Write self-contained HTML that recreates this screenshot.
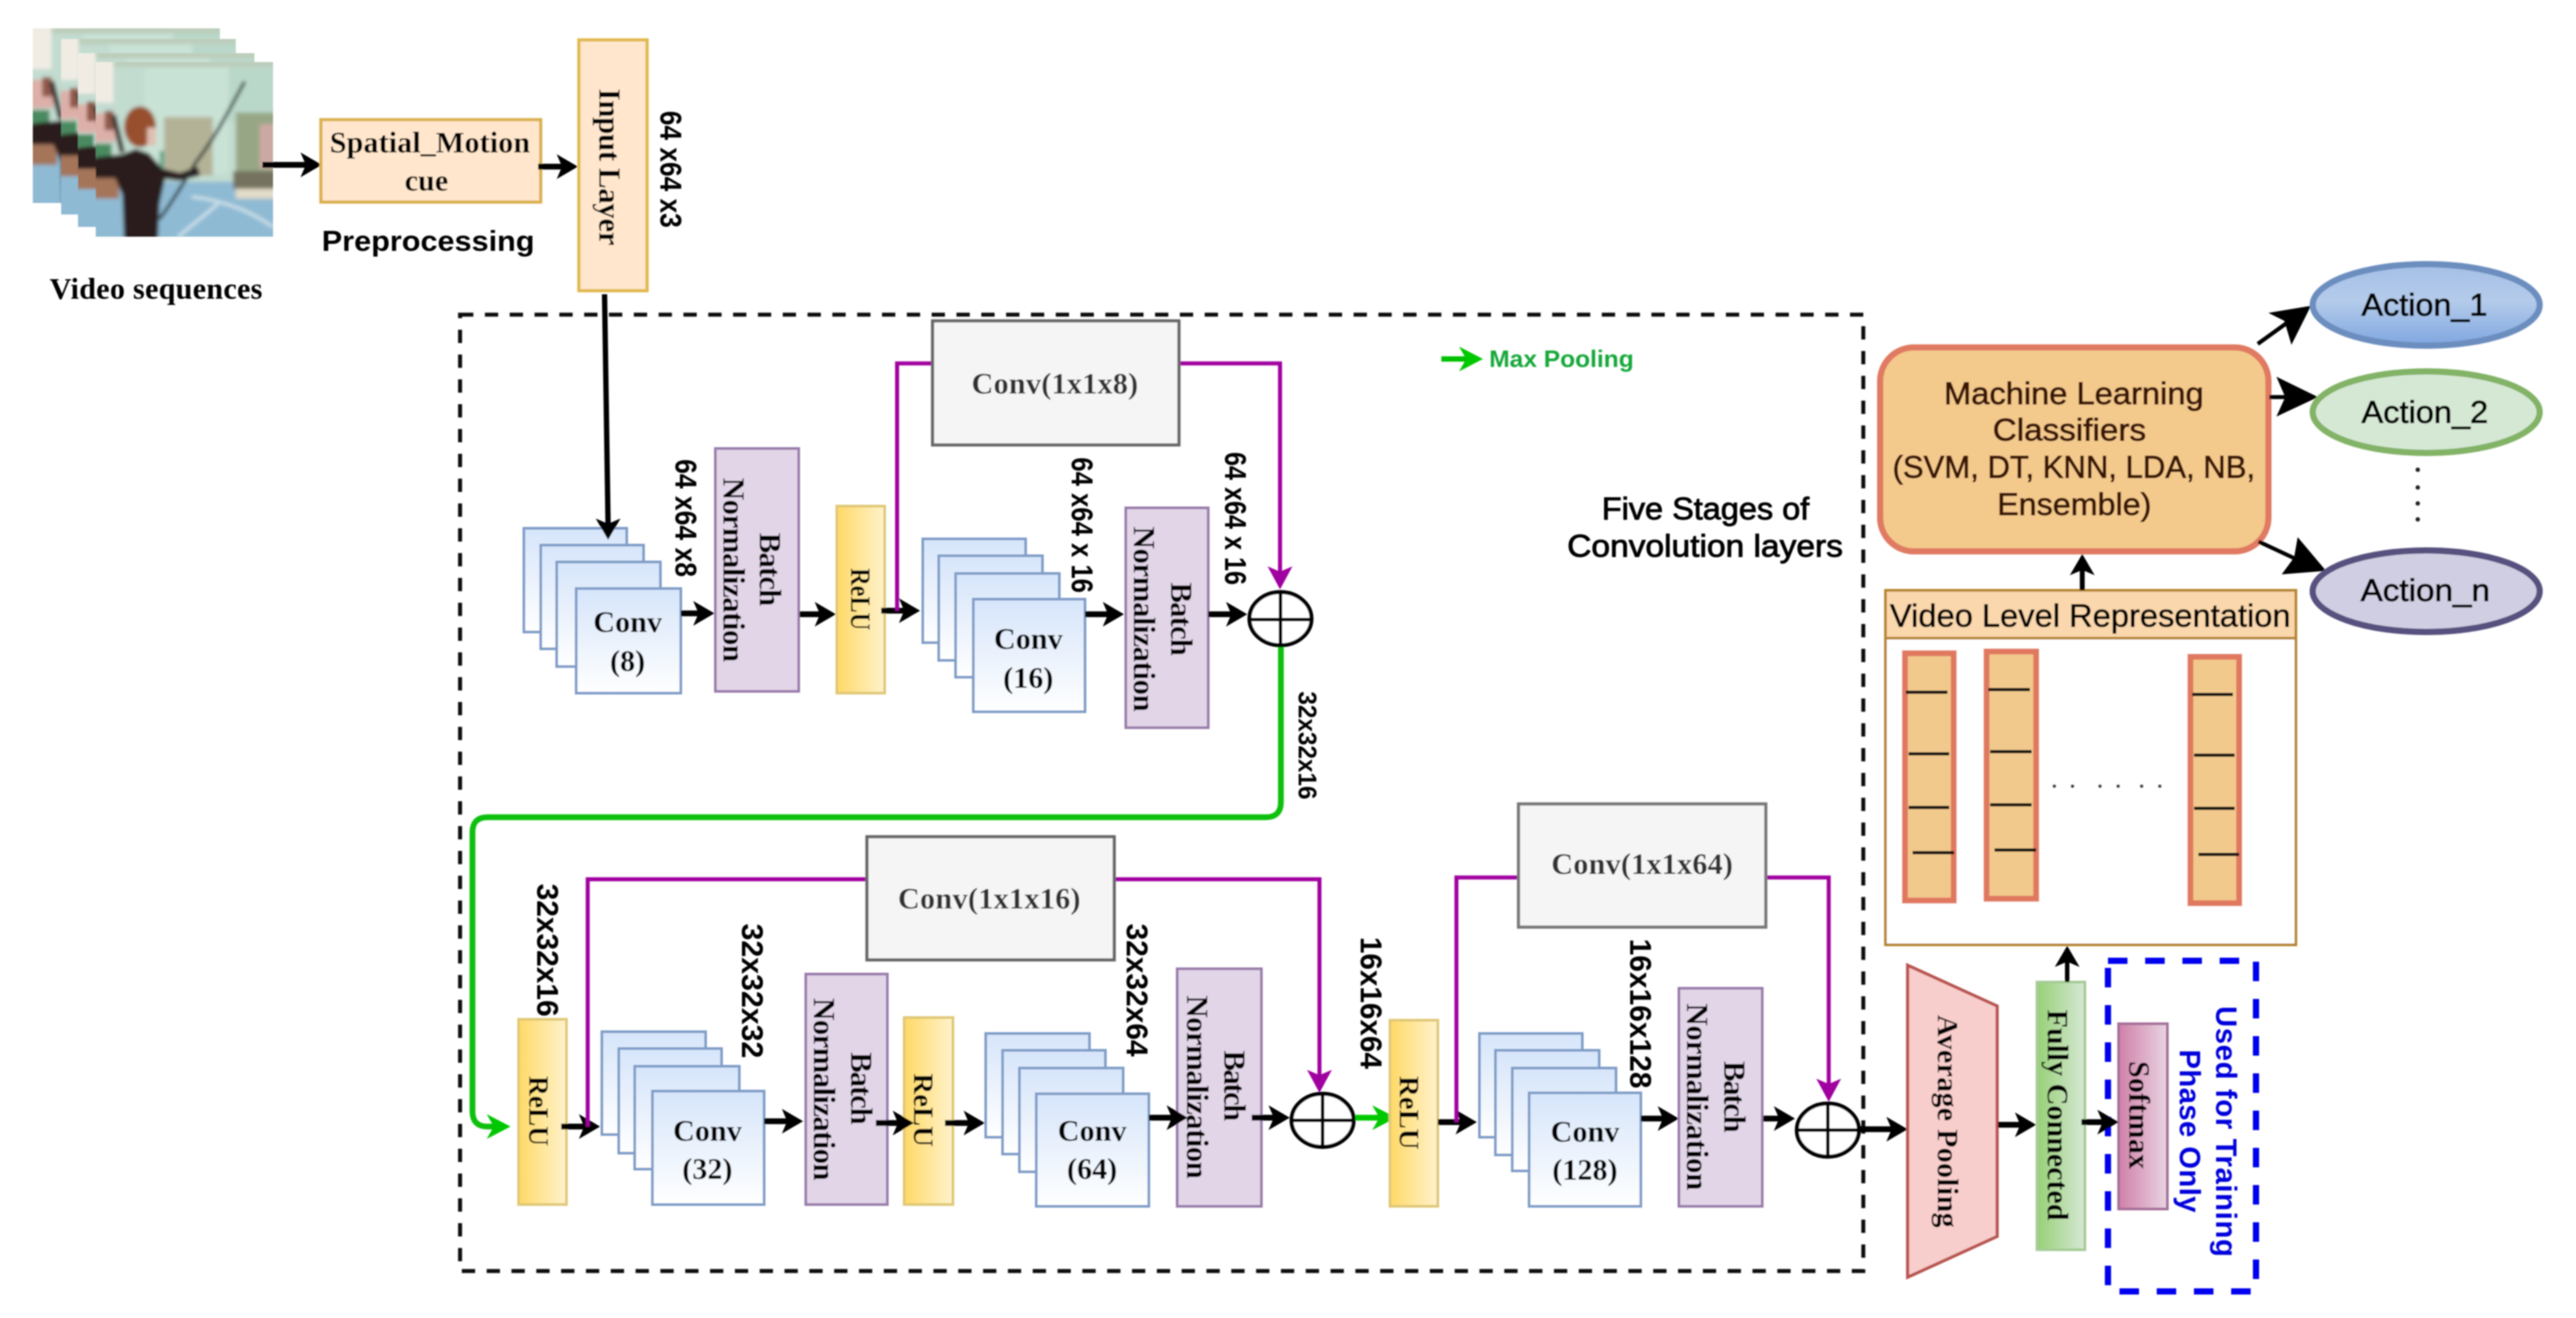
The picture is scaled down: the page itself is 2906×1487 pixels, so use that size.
<!DOCTYPE html>
<html lang="en"><head><meta charset="utf-8"><title>Architecture diagram</title>
<style>
html,body{margin:0;padding:0;background:#fff}
svg.main{display:block;width:2906px;height:1487px}
text{fill:#000}
.s{font-family:"Liberation Serif",serif;font-weight:700;font-size:34px}
.n{font-size:35px}
.a{font-family:"Liberation Sans",sans-serif;font-weight:700;font-size:34px}
.m{font-family:"Liberation Sans",sans-serif;font-weight:400;font-size:35px;stroke:#000;stroke-width:.9px}
.k{fill:url(#gc);stroke:#7f9dc8;stroke-width:3}
.b{fill:#e1d5e7;stroke:#9a7cab;stroke-width:3}
.r{fill:url(#gr);stroke:#e0c878;stroke-width:3}
.g{fill:#f5f5f5;stroke:#666;stroke-width:3.5}
.p{fill:none;stroke:#a000a0;stroke-width:4.5}
.l{stroke:#000;stroke-width:6.5;fill:none}
.v{stroke:#000;stroke-width:4;fill:none}
.o{fill:#fff;stroke:#000;stroke-width:4.5}
.bar{fill:#f2c98c;stroke:#e0785f;stroke-width:6.5}
.t{stroke:#111;stroke-width:3.5}
.mid{text-anchor:middle}
.gy{fill:#333}
.br{stroke:#3a1505!important;fill:#3a1505!important}
</style></head><body>
<svg class="main" xmlns="http://www.w3.org/2000/svg" viewBox="0 0 2906 1487">
<defs>
<linearGradient id="gc" x1="0" y1="0" x2="0" y2="1"><stop offset="0" stop-color="#d6e5fa"/><stop offset="1" stop-color="#fff"/></linearGradient>
<linearGradient id="gr" x1="0" y1="0" x2="1" y2="0"><stop offset="0" stop-color="#ffd966"/><stop offset="1" stop-color="#fff2cc"/></linearGradient>
<linearGradient id="gf" x1="0" y1="0" x2="1" y2="0"><stop offset="0" stop-color="#97d077"/><stop offset="1" stop-color="#d5e8d4"/></linearGradient>
<linearGradient id="gs" x1="0" y1="0" x2="1" y2="0"><stop offset="0" stop-color="#d080a8"/><stop offset="1" stop-color="#e8d4e2"/></linearGradient>
<linearGradient id="ga" x1="0" y1="0" x2="0" y2="1"><stop offset="0" stop-color="#a4bfe6"/><stop offset=".45" stop-color="#b4cbea"/><stop offset="1" stop-color="#7ea6e0"/></linearGradient>
<filter id="soft" x="-2%" y="-2%" width="104%" height="104%"><feGaussianBlur stdDeviation=".8"/></filter>
<filter id="ph-b" x="0" y="0" width="100%" height="100%"><feGaussianBlur stdDeviation="2"/></filter>
<path id="ah" d="M-24,-14 L0,0 L-24,14 L-18,0Z" fill="#000"/>
<path id="ahg" d="M-27,-14 L0,0 L-27,14 L-19,0Z" fill="#00c800"/>
<path id="ahp" d="M-26,-14 L0,0 L-26,14 L-20,0Z" fill="#a000a0"/>
<g id="ph" filter="url(#ph-b)">
 <rect x="-6" y="-6" width="212" height="209" fill="#c2dcd0"/>
 <rect x="-6" y="-6" width="212" height="12" fill="#bccdbb"/>
 <rect x="55" y="6" width="95" height="120" fill="#c9e2d6"/>
 <rect x="150" y="6" width="54" height="62" fill="#bad8ca"/>
 <rect x="-6" y="-4" width="26" height="50" fill="#f0ece4"/>
 <rect x="72" y="100" width="30" height="30" fill="#62a68a"/>
 <rect x="77" y="62" width="55" height="66" fill="#b3b297"/>
 <rect x="158" y="57" width="46" height="66" fill="#97a785"/>
 <rect x="185" y="70" width="19" height="50" fill="#cba9a2"/>
 <rect x="-6" y="58" width="28" height="32" fill="#dcb0a8"/>
 <rect x="10" y="55" width="10" height="22" fill="#8f5a4c"/>
 <rect x="-6" y="92" width="24" height="15" fill="#4a8a60"/>
 <rect x="-6" y="135" width="212" height="68" fill="#8fbad3"/>
 <rect x="-6" y="130" width="32" height="24" fill="#a5755a"/>
 <rect x="155" y="123" width="49" height="20" fill="#74725f"/>
 <rect x="158" y="143" width="46" height="11" fill="#e2dcc8"/>
 <path d="M93 197L138 160M108 152Q160 158 200 186" stroke="#dfeef2" stroke-width="2.5" fill="none"/>
 <path d="M-6 108L30 104L45 98L60 103L75 120L95 125L115 118L118 128L95 134L78 132L72 160L70 203L32 203L30 150L22 131L-6 131Z" fill="#2a1c1e"/>
 <path d="M20 60L30 102" stroke="#3c3230" stroke-width="6"/>
 <ellipse cx="50" cy="73" rx="18" ry="23" fill="#98502f"/>
 <rect x="58" y="74" width="10" height="20" fill="#e0c0b0"/>
 <path d="M168 22C150 55 135 85 113 113C100 135 85 160 72 177" stroke="#1c2c2c" stroke-width="3.5" fill="none"/>
</g>
</defs>

<g filter="url(#soft)">
<!-- photo stack -->
<svg x="37" y="32" width="211" height="197" viewBox="0 0 200 197" preserveAspectRatio="none"><use href="#ph"/></svg>
<svg x="69" y="44" width="197" height="198" viewBox="0 0 200 197" preserveAspectRatio="none"><use href="#ph"/></svg>
<svg x="88" y="60" width="199" height="196" viewBox="0 0 200 197" preserveAspectRatio="none"><use href="#ph"/></svg>
<svg x="108" y="70" width="200" height="197" viewBox="0 0 200 197" preserveAspectRatio="none"><use href="#ph"/></svg>
<text class="s" x="56" y="337" textLength="240">Video sequences</text>

<line class="l" x1="296" y1="186" x2="349" y2="186"/><use href="#ah" transform="translate(363,186)"/>
<rect x="362" y="135" width="248" height="93" fill="#ffe6cc" stroke="#d9b050" stroke-width="3.5"/>
<text class="s" x="372" y="172" textLength="226">Spatial_Motion</text>
<text class="s mid" x="481" y="215">cue</text>
<text class="a" x="363" y="283" textLength="240" lengthAdjust="spacingAndGlyphs" style="font-size:32px">Preprocessing</text>
<line class="l" x1="607" y1="188" x2="638" y2="188"/><use href="#ah" transform="translate(652,188)"/>
<rect x="653" y="45" width="77" height="283" fill="#ffe6cc" stroke="#e0b84c" stroke-width="3.5"/>
<text class="s n" transform="translate(676,100) rotate(90)" textLength="177">Input  Layer</text>
<text class="a" transform="translate(745,125) rotate(90)" textLength="132" lengthAdjust="spacingAndGlyphs">64 x64 x3</text>

<!-- main dashed box -->
<rect x="519" y="355" width="1583" height="1079" fill="none" stroke="#111" stroke-width="4.5" stroke-dasharray="15 13"/>

<!-- max pooling legend -->
<line x1="1626" y1="405" x2="1655" y2="405" stroke="#00c000" stroke-width="6"/><use href="#ahg" transform="translate(1673,405)"/>
<text class="a" x="1680" y="414" textLength="163" lengthAdjust="spacingAndGlyphs" style="font-size:27px;fill:#12a83a">Max Pooling</text>
<text class="m" x="1807" y="586" textLength="234" lengthAdjust="spacingAndGlyphs">Five Stages of</text>
<text class="m" x="1768" y="628" textLength="311" lengthAdjust="spacingAndGlyphs">Convolution layers</text>

<!-- Row 1 -->
<rect class="k" x="591" y="596" width="116" height="117"/>
<rect class="k" x="610" y="615" width="116" height="117"/>
<rect class="k" x="628" y="634" width="117" height="118"/>
<rect class="k" x="650" y="664" width="118" height="118"/>
<text class="s mid" x="708" y="713">Conv</text><text class="s mid" x="708" y="757">(8)</text>
<line class="v" x1="682" y1="332" x2="686" y2="595" style="stroke-width:6"/><use href="#ah" transform="translate(686,609) rotate(90)"/>
<text class="a" transform="translate(762,518) rotate(90)" textLength="133" lengthAdjust="spacingAndGlyphs">64 x64 x8</text>
<line class="l" x1="768" y1="692" x2="792" y2="692"/><use href="#ah" transform="translate(806,692)"/>
<rect class="b" x="807" y="506" width="94" height="274"/>
<text class="s n" transform="translate(857,601) rotate(90)" textLength="83">Batch</text>
<text class="s n" transform="translate(816,539) rotate(90)" textLength="208">Normalization</text>
<line class="l" x1="902" y1="693" x2="929" y2="693"/><use href="#ah" transform="translate(943,693)"/>
<rect class="r" x="944" y="571" width="54" height="211"/>
<text class="s" transform="translate(960,641) rotate(90)" textLength="70" lengthAdjust="spacingAndGlyphs" style="font-size:32px">ReLU</text>
<line class="l" x1="994" y1="689" x2="1024" y2="689"/><use href="#ah" transform="translate(1038,689)"/>
<path class="p" d="M1012 689V410H1052M1330 410H1444V650"/><use href="#ahp" transform="translate(1444,665) rotate(90)"/>
<rect class="g" x="1052" y="362" width="278" height="140"/>
<text class="s gy" x="1096" y="444" textLength="188">Conv(1x1x8)</text>
<rect class="k" x="1041" y="608" width="116" height="117"/>
<rect class="k" x="1059" y="627" width="117" height="118"/>
<rect class="k" x="1078" y="647" width="117" height="117"/>
<rect class="k" x="1098" y="676" width="126" height="127"/>
<text class="s mid" x="1160" y="732">Conv</text><text class="s mid" x="1160" y="776">(16)</text>
<text class="a" transform="translate(1209,516) rotate(90)" textLength="153" lengthAdjust="spacingAndGlyphs">64 x64 x 16</text>
<line class="l" x1="1224" y1="693" x2="1254" y2="693"/><use href="#ah" transform="translate(1268,693)"/>
<rect class="b" x="1270" y="573" width="93" height="248"/>
<text class="s n" transform="translate(1321,657) rotate(90)" textLength="83">Batch</text>
<text class="s n" transform="translate(1279,594) rotate(90)" textLength="209">Normalization</text>
<text class="a" transform="translate(1382,510) rotate(90)" textLength="150" lengthAdjust="spacingAndGlyphs">64 x64 x 16</text>
<line class="l" x1="1363" y1="693" x2="1393" y2="693"/><use href="#ah" transform="translate(1407,693)"/>
<!-- green link -->
<path d="M1445 728V905Q1445 922 1428 922H550Q533 922 533 939V1254Q533 1271 550 1271H560" fill="none" stroke="#0cc00c" stroke-width="6.5"/>
<use href="#ahg" transform="translate(576,1271)"/>
<ellipse class="o" cx="1444.5" cy="698" rx="35" ry="30"/><path d="M1409 699H1480M1444.5 668V728" stroke="#000" stroke-width="4"/>
<text class="a" transform="translate(1465,780) rotate(90)" textLength="122" lengthAdjust="spacingAndGlyphs" style="font-size:29px">32x32x16</text>

<!-- Row 2 -->
<text class="a" transform="translate(606,997) rotate(90)" textLength="150" lengthAdjust="spacingAndGlyphs">32x32x16</text>
<rect class="r" x="585" y="1150" width="54" height="209"/>
<text class="s" transform="translate(597,1214) rotate(90)" textLength="79" lengthAdjust="spacingAndGlyphs" style="font-size:32px">ReLU</text>
<line class="l" x1="633" y1="1271" x2="663" y2="1271"/><use href="#ah" transform="translate(677,1271)"/>
<path class="p" d="M663 1271V992H978M1257 992H1488.5V1218"/><use href="#ahp" transform="translate(1488.5,1233) rotate(90)"/>
<rect class="g" x="978" y="944" width="279" height="139"/>
<text class="s gy" x="1013" y="1025" textLength="206">Conv(1x1x16)</text>
<rect class="k" x="679" y="1164" width="117" height="116"/>
<rect class="k" x="698" y="1183" width="116" height="118"/>
<rect class="k" x="716" y="1203" width="118" height="116"/>
<rect class="k" x="736" y="1231" width="126" height="128"/>
<text class="s mid" x="798" y="1287">Conv</text><text class="s mid" x="798" y="1330">(32)</text>
<text class="a" transform="translate(837,1042) rotate(90)" textLength="152" lengthAdjust="spacingAndGlyphs">32x32x32</text>
<line class="l" x1="862" y1="1265" x2="892" y2="1265"/><use href="#ah" transform="translate(906,1265)"/>
<rect class="b" x="909" y="1099" width="92" height="260"/>
<text class="s n" transform="translate(960,1187) rotate(90)" textLength="82">Batch</text>
<text class="s n" transform="translate(918,1126) rotate(90)" textLength="206">Normalization</text>
<rect class="r" x="1020" y="1148" width="55" height="211"/>
<text class="s" transform="translate(1031,1211) rotate(90)" textLength="83" lengthAdjust="spacingAndGlyphs" style="font-size:32px">ReLU</text>
<line class="l" x1="988" y1="1267" x2="1017" y2="1267"/><use href="#ah" transform="translate(1031,1267)"/>
<line class="l" x1="1066" y1="1267" x2="1097" y2="1267"/><use href="#ah" transform="translate(1111,1267)"/>
<rect class="k" x="1112" y="1166" width="117" height="117"/>
<rect class="k" x="1131" y="1185" width="116" height="117"/>
<rect class="k" x="1150" y="1205" width="117" height="117"/>
<rect class="k" x="1169" y="1234" width="127" height="127"/>
<text class="s mid" x="1232" y="1287">Conv</text><text class="s mid" x="1232" y="1330">(64)</text>
<text class="a" transform="translate(1271,1042) rotate(90)" textLength="150" lengthAdjust="spacingAndGlyphs">32x32x64</text>
<rect class="b" x="1328" y="1093" width="95" height="268"/>
<text class="s n" transform="translate(1381,1185) rotate(90)" textLength="80">Batch</text>
<text class="s n" transform="translate(1339,1123) rotate(90)" textLength="207">Normalization</text>
<line class="l" x1="1296" y1="1261" x2="1326" y2="1261"/><use href="#ah" transform="translate(1340,1261)"/>
<line class="l" x1="1412" y1="1261" x2="1441" y2="1261"/><use href="#ah" transform="translate(1455,1261)"/>
<ellipse class="o" cx="1492" cy="1264" rx="35" ry="30"/><path d="M1457 1264H1527M1492 1234V1294" stroke="#000" stroke-width="4"/>
<text class="a" transform="translate(1535,1057) rotate(90)" textLength="149" lengthAdjust="spacingAndGlyphs">16x16x64</text>
<line x1="1529" y1="1261" x2="1556" y2="1261" stroke="#00c800" stroke-width="6.5"/><use href="#ahg" transform="translate(1575,1261)"/>
<rect class="r" x="1568" y="1151" width="54" height="210"/>
<text class="s" transform="translate(1579,1214) rotate(90)" textLength="83" lengthAdjust="spacingAndGlyphs" style="font-size:32px">ReLU</text>
<line class="l" x1="1622" y1="1266" x2="1652" y2="1266"/><use href="#ah" transform="translate(1666,1266)"/>
<path class="p" d="M1643 1266V990H1713M1992 990H2063V1228"/><use href="#ahp" transform="translate(2063,1243) rotate(90)"/>
<rect class="g" x="1713" y="907" width="279" height="139" style="stroke:#777"/>
<text class="s gy" x="1750" y="986" textLength="205">Conv(1x1x64)</text>
<rect class="k" x="1669" y="1166" width="116" height="117"/>
<rect class="k" x="1687" y="1185" width="117" height="118"/>
<rect class="k" x="1706" y="1205" width="117" height="116"/>
<rect class="k" x="1725" y="1233" width="126" height="128"/>
<text class="s mid" x="1788" y="1288">Conv</text><text class="s mid" x="1788" y="1331">(128)</text>
<text class="a" transform="translate(1839,1059) rotate(90)" textLength="169" lengthAdjust="spacingAndGlyphs">16x16x128</text>
<line class="l" x1="1851" y1="1262" x2="1880" y2="1262"/><use href="#ah" transform="translate(1894,1262)"/>
<rect class="b" x="1894" y="1115" width="94" height="246"/>
<text class="s n" transform="translate(1945,1197) rotate(90)" textLength="81">Batch</text>
<text class="s n" transform="translate(1903,1132) rotate(90)" textLength="211">Normalization</text>
<line class="l" x1="1989" y1="1262" x2="2011" y2="1262"/><use href="#ah" transform="translate(2025,1262)"/>
<ellipse class="o" cx="2062" cy="1275" rx="35" ry="30"/><path d="M2027 1275H2097M2062 1245V1305" stroke="#000" stroke-width="4"/>

<!-- output section -->
<line class="l" x1="2097" y1="1274" x2="2138" y2="1274"/><use href="#ah" transform="translate(2152,1274)"/>
<path d="M2152 1089L2253 1135V1395L2152 1441Z" fill="#f8cecc" stroke="#b85450" stroke-width="3.5"/>
<text class="s" transform="translate(2186,1145) rotate(90)" textLength="240">Average Pooling</text>
<line class="l" x1="2254" y1="1269" x2="2283" y2="1269"/><use href="#ah" transform="translate(2297,1269)"/>
<rect x="2298" y="1108" width="54" height="302" fill="url(#gf)" stroke="#a6cc96" stroke-width="3"/>
<text class="s" transform="translate(2310,1139) rotate(90)" textLength="238">Fully Connected</text>
<line x1="2332" y1="1108" x2="2332" y2="1085" stroke="#000" stroke-width="5"/><use href="#ah" transform="translate(2332,1067) rotate(-90)"/>
<rect x="2378" y="1084" width="167" height="373" fill="none" stroke="#0000f0" stroke-width="7" stroke-dasharray="22 20"/>
<rect x="2390" y="1155" width="55" height="209" fill="url(#gs)" stroke="#a5709a" stroke-width="3"/>
<text class="s" transform="translate(2402,1197) rotate(90)" textLength="122">Softmax</text>
<line class="l" x1="2348" y1="1266" x2="2376" y2="1266"/><use href="#ah" transform="translate(2390,1266)"/>
<text class="a" transform="translate(2500,1135) rotate(90)" textLength="283" style="font-size:33px;fill:#0000dc">Used for Training</text>
<text class="a" transform="translate(2459,1184) rotate(90)" textLength="184" style="font-size:33px;fill:#0000dc">Phase Only</text>

<!-- video level -->
<rect x="2127" y="666" width="463" height="400" fill="#fff" stroke="#b5852f" stroke-width="3"/>
<rect x="2127" y="666" width="463" height="54" fill="#fad7ac" stroke="#b5852f" stroke-width="3"/>
<text class="m" x="2132" y="707" textLength="452" lengthAdjust="spacingAndGlyphs" style="font-size:36px;stroke-width:.7px">Video Level Representation</text>
<rect class="bar" x="2149" y="737" width="55" height="279"/>
<path class="t" d="M2150 781H2197M2153 850.500H2199M2153 911H2199M2157.500 962H2204.500"/>
<rect class="bar" x="2241" y="735" width="56" height="279"/>
<path class="t" d="M2243 778H2290M2245 848H2292M2245 908H2292M2250 959H2297"/>
<rect class="bar" x="2471" y="741" width="55" height="278"/>
<path class="t" d="M2473 783.500H2519M2475 852H2521M2475 912H2521M2480 964H2526"/>
<g fill="#333"><circle cx="2317.500" cy="887" r="2"/><circle cx="2338" cy="887" r="2"/><circle cx="2369" cy="887" r="2"/><circle cx="2389.500" cy="887" r="2"/><circle cx="2416" cy="887" r="2"/><circle cx="2436.500" cy="887" r="2"/></g>
<line x1="2349" y1="666" x2="2349" y2="643" stroke="#000" stroke-width="5.500"/><use href="#ah" transform="translate(2349,625) rotate(-90)"/>

<!-- ML classifiers -->
<rect x="2121" y="392" width="438" height="230" rx="38" fill="#f4c98c" stroke="#e07a62" stroke-width="7"/>
<text class="m br" x="2193" y="456" textLength="293" lengthAdjust="spacingAndGlyphs">Machine Learning</text>
<text class="m br" x="2248" y="497" textLength="173" lengthAdjust="spacingAndGlyphs">Classifiers</text>
<text class="m br" x="2135" y="539" textLength="409" lengthAdjust="spacingAndGlyphs">(SVM, DT, KNN, LDA, NB,</text>
<text class="m br" x="2253" y="581" textLength="174" lengthAdjust="spacingAndGlyphs">Ensemble)</text>

<!-- actions -->
<line class="v" x1="2547" y1="388" x2="2590" y2="357" style="stroke-width:4.500"/><path d="M2607 345L2559 353L2577 362L2585 389Z" fill="#000"/>
<line class="v" x1="2560" y1="448" x2="2590" y2="448" style="stroke-width:4.500"/><path d="M2615 448L2568 425L2578 448L2568 470Z" fill="#000"/>
<line class="v" x1="2548" y1="611" x2="2595" y2="633" style="stroke-width:4.500"/><path d="M2624 644L2592 606L2588 629L2574 648Z" fill="#000"/>
<ellipse cx="2737" cy="344" rx="128" ry="46" fill="url(#ga)" stroke="#6c8ebf" stroke-width="7"/>
<text class="m" x="2664" y="356" textLength="142" lengthAdjust="spacingAndGlyphs">Action_1</text>
<ellipse cx="2737" cy="465" rx="128" ry="46" fill="#d5e8d4" stroke="#82b366" stroke-width="7"/>
<text class="m" x="2664" y="477" textLength="143" lengthAdjust="spacingAndGlyphs">Action_2</text>
<ellipse cx="2737" cy="667" rx="128" ry="46" fill="#d0cee2" stroke="#56517e" stroke-width="7"/>
<text class="m" x="2663" y="678" textLength="146" lengthAdjust="spacingAndGlyphs">Action_n</text>
<g fill="#222"><circle cx="2727.500" cy="530" r="2.500"/><circle cx="2727.500" cy="550" r="2.500"/><circle cx="2727.500" cy="568" r="2.500"/><circle cx="2727.500" cy="586" r="2.500"/></g>
</g>
</svg>
</body></html>
